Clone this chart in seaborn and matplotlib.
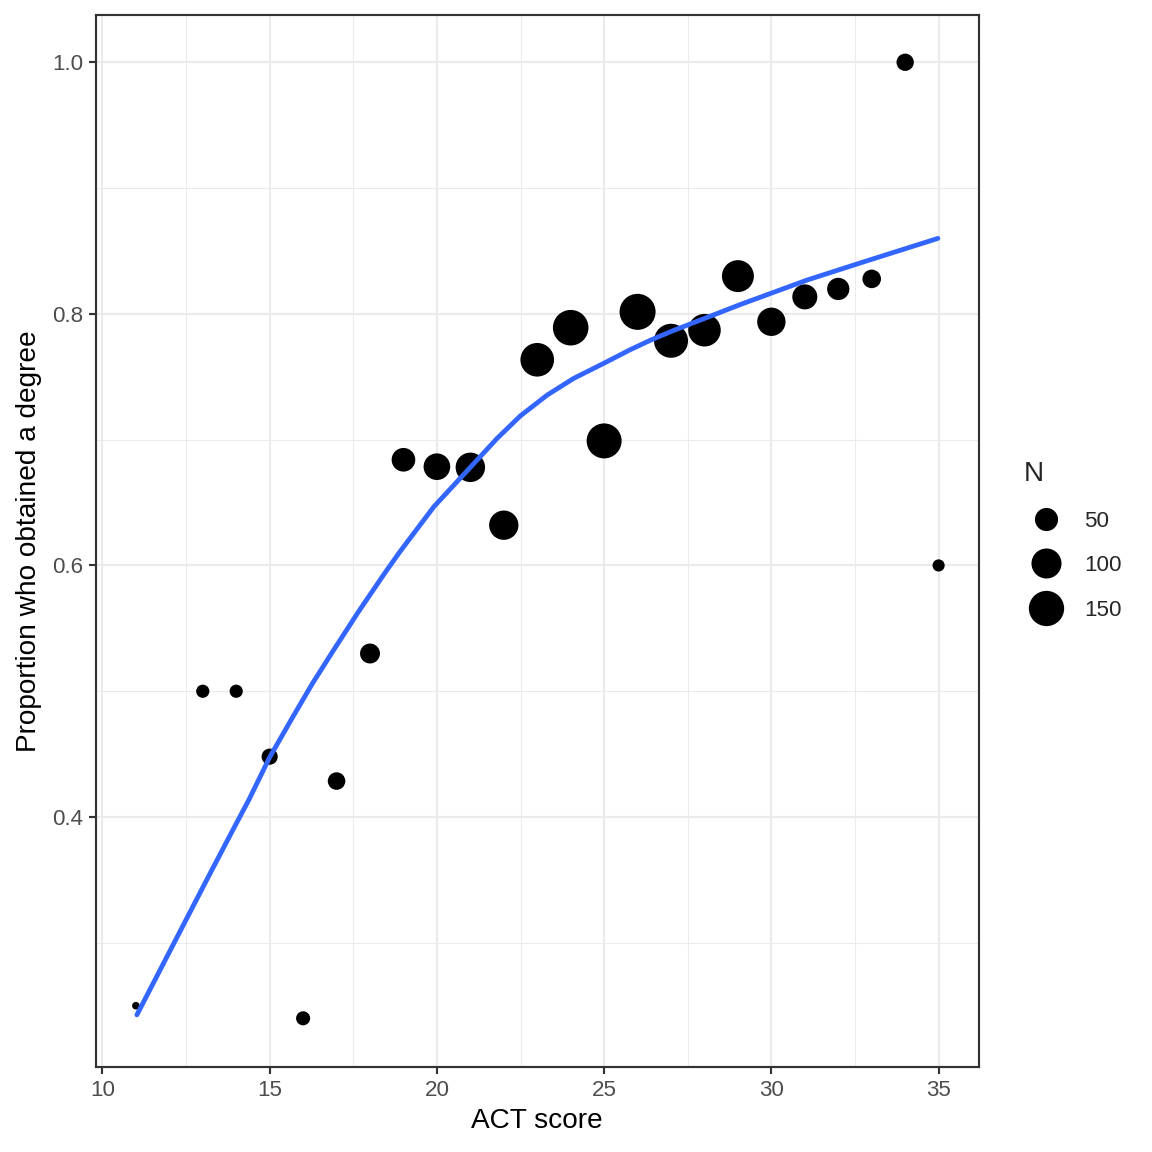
import numpy as np
import pandas as pd
import matplotlib
matplotlib.use("Agg")
import matplotlib.pyplot as plt
from matplotlib.lines import Line2D
import seaborn as sns

# ---- data ----
act = [11, 13, 14, 15, 16, 17, 18, 19, 20, 21, 22, 23,
       24, 25, 26, 27, 28, 29, 30, 31, 32, 33, 34, 35]
prop = [0.25, 0.50, 0.50, 0.448, 0.24, 0.4286, 0.530, 0.684, 0.6785, 0.678, 0.632, 0.7635,
        0.789, 0.699, 0.8016, 0.7786, 0.787, 0.830, 0.7937, 0.8135, 0.8198, 0.8278, 1.0, 0.60]
n_students = [4, 10, 10, 18, 12, 23, 33, 53, 73, 95, 94, 133,
              153, 147, 158, 137, 123, 117, 86, 62, 45, 27, 22, 8]

# smooth line
smooth_x = [11.03, 11.70, 12.50, 13.19, 13.89, 14.39, 15.00, 15.68, 16.28, 16.88, 17.67, 18.47,
            18.91, 19.91, 21.00, 21.80, 22.50, 23.30, 24.09, 24.99, 25.78, 26.38, 27.02,
            29.04, 31.07, 32.78, 34.98]
smooth_y = [0.2427, 0.2772, 0.3183, 0.3537, 0.3892, 0.4143, 0.4475, 0.4790, 0.5062, 0.5314, 0.5638,
            0.5950, 0.6115, 0.6467, 0.6780, 0.7010, 0.7190, 0.7355, 0.7487, 0.7607, 0.7715, 0.7790,
            0.7862, 0.8071, 0.8269, 0.8415, 0.8600]

legend_n = [50, 100, 150]

df = pd.DataFrame({"ACT": act, "Prop": prop, "N": n_students})
curve = pd.DataFrame({"ACT": smooth_x, "Prop": smooth_y})

# ggplot-like area scale: size 1..6 mm
n_lo, n_hi = min(n_students), max(n_students)


def area_size(n):
    r = np.sqrt((n - n_lo) / (n_hi - n_lo))
    return 2.845 * (1 + 5 * r) + 0.945


size_map = {n: area_size(n) ** 2 for n in sorted(set(n_students))}

sns.set_theme(style="white")
plt.rcParams["font.family"] = ["Liberation Sans", "DejaVu Sans"]

fig = plt.figure(figsize=(8, 8), dpi=144)
ax = fig.add_axes([0.0831, 0.0738, 0.8496 - 0.0831, 0.987 - 0.0738])

grid_c = "#EBEBEB"
for v in [10, 15, 20, 25, 30, 35]:
    ax.axvline(v, color=grid_c, lw=1.07, zorder=0)
for v in [12.5, 17.5, 22.5, 27.5, 32.5]:
    ax.axvline(v, color=grid_c, lw=0.53, zorder=0)
for v in [0.4, 0.6, 0.8, 1.0]:
    ax.axhline(v, color=grid_c, lw=1.07, zorder=0)
for v in [0.3, 0.5, 0.7, 0.9]:
    ax.axhline(v, color=grid_c, lw=0.53, zorder=0)

sns.scatterplot(data=df, x="ACT", y="Prop", size="N", sizes=size_map,
                color="black", linewidth=0, legend=False, ax=ax, zorder=2)
sns.lineplot(data=curve, x="ACT", y="Prop", color="#3366FF", lw=2.4,
             estimator=None, ax=ax, zorder=3)

ax.set_xlim(9.8, 36.2)
ax.set_ylim(0.2013, 1.0376)
ax.set_xticks([10, 15, 20, 25, 30, 35])
ax.set_yticks([0.4, 0.6, 0.8, 1.0])
ax.set_yticklabels(["0.4", "0.6", "0.8", "1.0"])

for s in ax.spines.values():
    s.set_color("#333333")
    s.set_linewidth(1.07)
ax.tick_params(axis="both", which="major", length=3.5, width=1.07, color="#333333",
               labelsize=11.2, labelcolor="#4D4D4D", pad=2.8,
               bottom=True, left=True)

ax.set_xlabel("ACT score", fontsize=14, color="black", labelpad=3.5)
ax.set_ylabel("Proportion who obtained a degree", fontsize=14, color="black", labelpad=5)

handles = [Line2D([], [], marker="o", linestyle="none", color="black",
                  markeredgewidth=0, markersize=area_size(n)) for n in legend_n]
leg = ax.legend(handles, [str(n) for n in legend_n], title="N",
                loc="center left", bbox_to_anchor=(0.881, 0.5304), bbox_transform=fig.transFigure,
                frameon=False, fontsize=11.2, title_fontsize=14, labelspacing=1.05,
                handletextpad=0.68, handlelength=2.0, alignment="left", borderaxespad=0)

fig.savefig("out.png", dpi=144)
